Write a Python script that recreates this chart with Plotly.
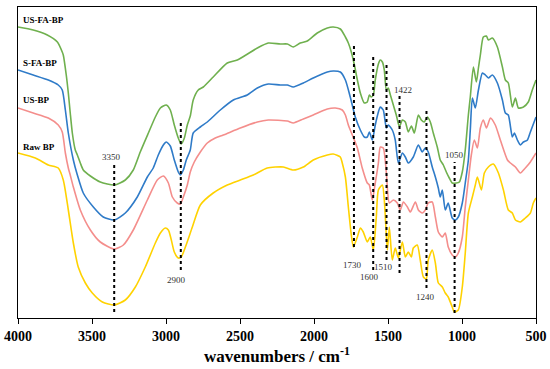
import plotly.graph_objects as go

# ---- data (wavenumber in cm^-1, transmittance in arbitrary units, offset per sample) ----
wn_us_fa = [4000, 3897, 3802, 3734, 3701, 3694, 3674, 3660, 3647, 3633, 3613, 3599, 3579, 3559, 3511, 3444, 3349,
            3275, 3221, 3174, 3119, 3072, 3038, 2998, 2971, 2944, 2917, 2897, 2876, 2856, 2836, 2816, 2782, 2748,
            2681, 2586, 2518, 2383, 2309, 2228, 2180, 2140, 2093, 2045, 1978, 1910, 1870, 1822, 1788, 1768, 1748,
            1727, 1707, 1687, 1660, 1640, 1626, 1613, 1599, 1586, 1565, 1552, 1538, 1525, 1511, 1498, 1484, 1464,
            1444, 1423, 1403, 1383, 1363, 1342, 1322, 1295, 1275, 1255, 1234, 1214, 1194, 1167, 1147, 1126, 1106,
            1086, 1066, 1039, 1018, 998, 978, 957, 944, 923, 903, 889, 876, 856, 835, 822, 795, 761, 727, 707, 687,
            660, 639, 619, 585, 552, 525, 500]
us_fa_bp = [291, 288, 283, 276, 266, 263, 243, 225, 205, 185, 168, 163, 155, 148, 142, 136, 133,
            138, 148, 166, 185, 201, 210, 213, 208, 193, 180, 174, 180, 193, 202, 218, 228, 231,
            241, 255, 258, 270, 275, 274, 274, 271, 275, 277, 285, 290, 291, 289, 281, 275, 266,
            253, 238, 225, 215, 216, 223, 221, 223, 238, 254, 258, 256, 248, 228, 230, 223, 213,
            203, 191, 198, 196, 186, 192, 185, 203, 198, 196, 201, 196, 185, 171, 158, 153, 146,
            140, 135, 135, 136, 146, 168, 203, 221, 251, 236, 250, 263, 281, 282, 278, 280, 271, 251, 238, 235,
            211, 220, 210, 211, 216, 228, 238]

wn_s_fa = [4000, 3897, 3795, 3728, 3701, 3680, 3660, 3626, 3599, 3559, 3491, 3424, 3349, 3275, 3194, 3126, 3086,
           3052, 3018, 2998, 2971, 2944, 2917, 2903, 2883, 2863, 2836, 2816, 2768, 2721, 2633, 2545, 2451, 2383,
           2309, 2228, 2180, 2140, 2072, 2005, 1910, 1870, 1822, 1788, 1755, 1721, 1687, 1660, 1640, 1626, 1606,
           1586, 1565, 1552, 1532, 1511, 1498, 1471, 1451, 1430, 1403, 1383, 1363, 1329, 1295, 1268, 1248, 1228,
           1201, 1180, 1160, 1147, 1133, 1113, 1093, 1066, 1045, 1025, 998, 978, 957, 944, 930, 910, 889, 862,
           842, 822, 795, 761, 727, 707, 687, 660, 646, 626, 606, 585, 558, 538, 500]
s_fa_bp = [248, 243, 238, 233, 228, 208, 185, 158, 143, 125, 111, 101, 98, 105, 121, 141, 150,
           163, 173, 176, 172, 158, 146, 143, 148, 158, 168, 185, 191, 196, 208, 218, 223, 230,
           234, 233, 233, 231, 235, 240, 246, 247, 246, 238, 221, 201, 188, 181, 181, 186, 178,
           193, 206, 211, 208, 190, 193, 188, 178, 155, 165, 161, 155, 161, 173, 166, 170, 166,
           151, 141, 130, 121, 128, 108, 115, 100, 98, 101, 115, 135, 158, 188, 220, 210, 228, 245,
           243, 240, 243, 235, 218, 205, 203, 181, 185, 178, 173, 176, 178, 186, 201]

wn_us = [4000, 3897, 3795, 3728, 3701, 3680, 3660, 3647, 3626, 3579, 3511, 3444, 3349, 3288, 3221, 3126, 3059,
         3018, 2984, 2957, 2924, 2903, 2883, 2856, 2836, 2809, 2768, 2721, 2667, 2613, 2498, 2383, 2309, 2180,
         2140, 2072, 2005, 1910, 1856, 1809, 1788, 1768, 1741, 1707, 1674, 1640, 1626, 1606, 1586, 1565, 1552,
         1532, 1511, 1491, 1464, 1437, 1417, 1396, 1369, 1349, 1315, 1295, 1268, 1248, 1228, 1201, 1180, 1160,
         1133, 1113, 1093, 1066, 1045, 1025, 998, 978, 957, 937, 917, 896, 876, 856, 835, 808, 775, 741, 693,
         673, 639, 606, 572, 538, 500]
us_bp = [210, 205, 200, 193, 186, 165, 150, 143, 131, 108, 88, 76, 69, 73, 88, 118, 138,
         142, 135, 121, 115, 114, 121, 133, 146, 156, 166, 175, 180, 183, 190, 196, 198, 197,
         195, 199, 203, 209, 210, 208, 203, 193, 183, 170, 150, 135, 133, 118, 135, 155, 171,
         170, 145, 115, 118, 115, 108, 116, 111, 106, 116, 108, 105, 108, 115, 116, 101, 86,
         81, 85, 71, 63, 61, 65, 81, 111, 138, 163, 178, 170, 190, 198, 190, 200, 193, 178, 158,
         155, 151, 145, 150, 156, 165]

wn_raw = [4000, 3883, 3795, 3728, 3694, 3660, 3626, 3593, 3545, 3498, 3430, 3349, 3275, 3207, 3140, 3072, 3038,
          3005, 2984, 2964, 2944, 2917, 2897, 2869, 2822, 2768, 2681, 2586, 2498, 2410, 2316, 2207, 2140, 2072,
          2005, 1910, 1870, 1822, 1809, 1788, 1768, 1748, 1734, 1707, 1687, 1667, 1640, 1620, 1599, 1579, 1565,
          1538, 1525, 1504, 1491, 1471, 1451, 1430, 1403, 1383, 1363, 1342, 1329, 1302, 1282, 1261, 1241, 1228,
          1201, 1180, 1160, 1133, 1113, 1093, 1066, 1052, 1025, 998, 978, 957, 930, 910, 896, 869, 849, 822,
          788, 754, 720, 687, 660, 639, 606, 572, 538, 518, 500]
raw_bp = [165, 160, 153, 150, 138, 108, 75, 51, 35, 25, 16, 13, 18, 31, 51, 75, 85,
          90, 88, 78, 66, 60, 61, 71, 91, 113, 125, 133, 138, 143, 150, 151, 148, 151,
          158, 163, 164, 161, 155, 141, 111, 83, 71, 81, 90, 86, 76, 81, 68, 101, 128,
          133, 118, 68, 91, 58, 70, 60, 76, 61, 66, 61, 70, 73, 58, 41, 39, 58,
          68, 55, 35, 31, 25, 21, 11, 6, 8, 31, 65, 105, 121, 133, 141, 128, 145, 151,
          154, 145, 128, 108, 105, 98, 96, 100, 105, 115, 120]

series_names = ["US-FA-BP", "S-FA-BP", "US-BP", "Raw BP"]
series_colors = ["#6FB04E", "#2F7BC8", "#F48E8C", "#FFD200"]
series_label_y = [298, 255, 218, 171]

peak_wn = [3350, 2900, 1730, 1600, 1510, 1422, 1240, 1050]
peak_line_top = [155, 198, 275, 261, 254, 222, 208, 156]
peak_line_bottom = [6, 48, 71, 48, 58, 45, 30, 5]
peak_label_wn = [3370, 2930, 1741, 1626, 1532, 1396, 1248, 1052]
peak_label_y = [161, 38, 53, 41, 51, 228, 21, 163]

x_ticks = [4000, 3500, 3000, 2500, 2000, 1500, 1000, 500]

# ---- figure ----
fig = go.Figure()
serif = "Liberation Serif"
for wn, vals, name, col in zip([wn_us_fa, wn_s_fa, wn_us, wn_raw],
                               [us_fa_bp, s_fa_bp, us_bp, raw_bp],
                               series_names, series_colors):
    fig.add_trace(go.Scatter(x=wn, y=vals, mode="lines", name=name,
                             line=dict(color=col, width=1.6, shape="spline", smoothing=0.6),
                             showlegend=False))

for wn, y0, y1 in zip(peak_wn, peak_line_bottom, peak_line_top):
    fig.add_shape(type="line", xref="x", yref="y", x0=wn, x1=wn, y0=y0, y1=y1,
                  line=dict(color="black", width=2, dash="dot"))

for wn, y, txt in zip(peak_label_wn, peak_label_y, peak_wn):
    fig.add_annotation(x=wn, y=y, xref="x", yref="y", text=str(txt), showarrow=False,
                       font=dict(family=serif, size=9, color="#333333"),
                       xanchor="center", yanchor="middle")

for name, y in zip(series_names, series_label_y):
    fig.add_annotation(x=3980, y=y, xref="x", yref="y", text="<b>%s</b>" % name, showarrow=False,
                       font=dict(family=serif, size=9, color="black"),
                       xanchor="left", yanchor="middle")

fig.update_layout(
    width=550, height=369,
    margin=dict(l=18, r=14, t=7, b=51, autoexpand=False),
    paper_bgcolor="white", plot_bgcolor="white",
    font=dict(family=serif, color="black"),
)
fig.update_xaxes(range=[4000, 500], tickvals=x_ticks, ticktext=["<b>%d</b>" % t for t in x_ticks],
                 ticks="outside", ticklen=5, tickwidth=1, tickcolor="black",
                 showline=True, linecolor="black", linewidth=1.2, mirror=True,
                 showgrid=False, zeroline=False, automargin=False,
                 tickfont=dict(family=serif, size=14, color="black"),
                 title=dict(text="<b>wavenumbers / cm<sup>-1</sup></b>",
                            font=dict(family=serif, size=17, color="black"), standoff=4))
fig.update_yaxes(range=[0, 311], showticklabels=False, ticks="", showline=True, linecolor="black",
                 linewidth=1.2, mirror=True, showgrid=False, zeroline=False, automargin=False)

fig.write_html("out.html", config={"displayModeBar": False},
               post_script="document.body.style.margin='0';")
